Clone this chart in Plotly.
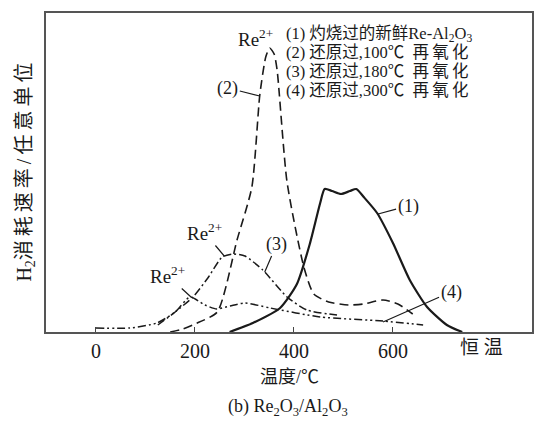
import plotly.graph_objects as go

# ---- data (temperature in °C, H2 consumption in arbitrary units) ----
t1 = [270, 317, 372, 406, 432, 453, 462, 477, 495, 513, 526, 541, 568, 600, 634, 669, 709, 740]
y1 = [0, 9, 24, 48, 88, 129, 143, 141, 138, 141, 143, 135, 119, 89, 52, 25, 7, 0]

t2 = [150, 175, 200, 245, 285, 315, 331, 343, 351, 360, 366, 386, 420, 440, 470, 510, 540, 580, 610, 640]
y2 = [0, 3, 8, 20, 92, 145, 237, 275, 284, 278, 262, 150, 65, 38, 30, 27, 28, 32, 28, 18]

t3 = [125, 160, 196, 226, 255, 277, 301, 337, 386, 426, 487]
y3 = [7, 20, 35, 54, 75, 78, 76, 62, 35, 22, 17]

t4 = [0, 69, 123, 160, 190, 220, 244, 271, 301, 352, 453, 580, 661]
y4 = [4, 4, 9, 20, 35, 27, 23, 26, 29, 24, 15, 11, 7]

xtick_vals = [0, 200, 400, 600]
xtick_text = ["0", "200", "400", "600"]
hold_label = "恒 温"
hold_pos = 778

NB = "\u00a0"
TH = "\u2009"
legend_lines = [
    "(1)" + NB + "灼烧过的新鲜Re-Al<sub>2</sub>O<sub>3</sub>",
    "(2)" + NB + "还原过,100℃" + NB * 2 + "再" + TH + "氧" + TH + "化",
    "(3)" + NB + "还原过,180℃" + NB * 2 + "再" + TH + "氧" + TH + "化",
    "(4)" + NB + "还原过,300℃" + NB * 2 + "再" + TH + "氧" + TH + "化",
]
ytitle = "H<sub>2</sub>" + TH.join(list("消耗速率/任意单位"))

LATIN = "Liberation Serif, Noto Sans CJK SC, serif"
INK = "#1a1a1a"

fig = go.Figure()
fig.add_trace(go.Scatter(x=t1, y=y1, mode="lines", line=dict(color=INK, width=2.2, shape="spline", smoothing=0.6)))
fig.add_trace(go.Scatter(x=t2, y=y2, mode="lines", line=dict(color=INK, width=1.6, dash="9px,5px", shape="spline", smoothing=0.6)))
fig.add_trace(go.Scatter(x=t3, y=y3, mode="lines", line=dict(color=INK, width=1.5, dash="8px,3px,2px,3px", shape="spline", smoothing=0.6)))
fig.add_trace(go.Scatter(x=t4, y=y4, mode="lines", line=dict(color=INK, width=1.5, dash="8px,3px,2px,3px,2px,3px", shape="spline", smoothing=0.6)))

ann = []
# curve labels with pointer lines
def ptr(text, x, y, ax, ay, size=15):
    ann.append(dict(x=x, y=y, xref="x", yref="y", text=text, showarrow=True, arrowhead=0,
                    arrowwidth=1.2, arrowcolor=INK, ax=ax, ay=ay, standoff=0,
                    font=dict(family=LATIN, size=size, color=INK)))

ptr("(1)", 570, 118, 30, -8, 18)
ptr("(2)", 331, 236, -32, -8, 18)
ptr("(3)", 341, 60, 12, -28, 18)
ptr("(4)", 580, 10, 68, -30, 18)
ptr("Re<sup>2+</sup>", 259, 76, -20, -24, 19)
ptr("Re<sup>2+</sup>", 192, 35, -24, -22, 19)
ann.append(dict(x=323, y=294, xref="x", yref="y", text="Re<sup>2+</sup>", showarrow=False,
                font=dict(family=LATIN, size=19, color=INK)))

# legend block
for i, s in enumerate(legend_lines):
    ann.append(dict(x=0.49, y=1 - (21 + i * 18.9) / 319, xref="paper", yref="paper", text=s,
                    showarrow=False, xanchor="left", yanchor="middle",
                    font=dict(family=LATIN, size=16.5, color=INK)))

# hold-temperature label at the end of the axis
ann.append(dict(x=hold_pos, y=-0.05, xref="x", yref="paper", text=hold_label, showarrow=False,
                yanchor="middle", font=dict(family=LATIN, size=19, color=INK)))
# x-axis title and caption
ann.append(dict(x=0.502, y=-0.141, xref="paper", yref="paper", text="温度/℃", showarrow=False,
                yanchor="middle", font=dict(family=LATIN, size=18, color=INK)))
ann.append(dict(x=0.498, y=-0.238, xref="paper", yref="paper",
                text="(b) Re<sub>2</sub>O<sub>3</sub>/Al<sub>2</sub>O<sub>3</sub>", showarrow=False,
                yanchor="middle", font=dict(family=LATIN, size=18, color=INK)))
# y-axis title
ann.append(dict(x=-0.043, y=0.50, xref="paper", yref="paper", text=ytitle,
                textangle=-90, showarrow=False, xanchor="center", yanchor="middle",
                font=dict(family=LATIN, size=20, color=INK)))

fig.update_layout(
    width=547, height=425,
    margin=dict(l=46, r=15, t=13, b=93),
    paper_bgcolor="white", plot_bgcolor="white",
    showlegend=False,
    annotations=ann,
    xaxis=dict(range=[-101, 881], tickvals=xtick_vals, ticktext=xtick_text, ticks="inside", ticklen=5,
               tickwidth=1.2, tickcolor="#444", showgrid=False, zeroline=False, showline=True, mirror=True,
               linecolor="#555", linewidth=1.6, tickfont=dict(family=LATIN, size=20, color=INK)),
    yaxis=dict(range=[0, 319], showticklabels=False, ticks="", showgrid=False, zeroline=False,
               showline=True, mirror=True, linecolor="#555", linewidth=1.6),
)

fig.write_html("out.html", config={"displayModeBar": False},
               post_script="document.body.style.margin='0';")
